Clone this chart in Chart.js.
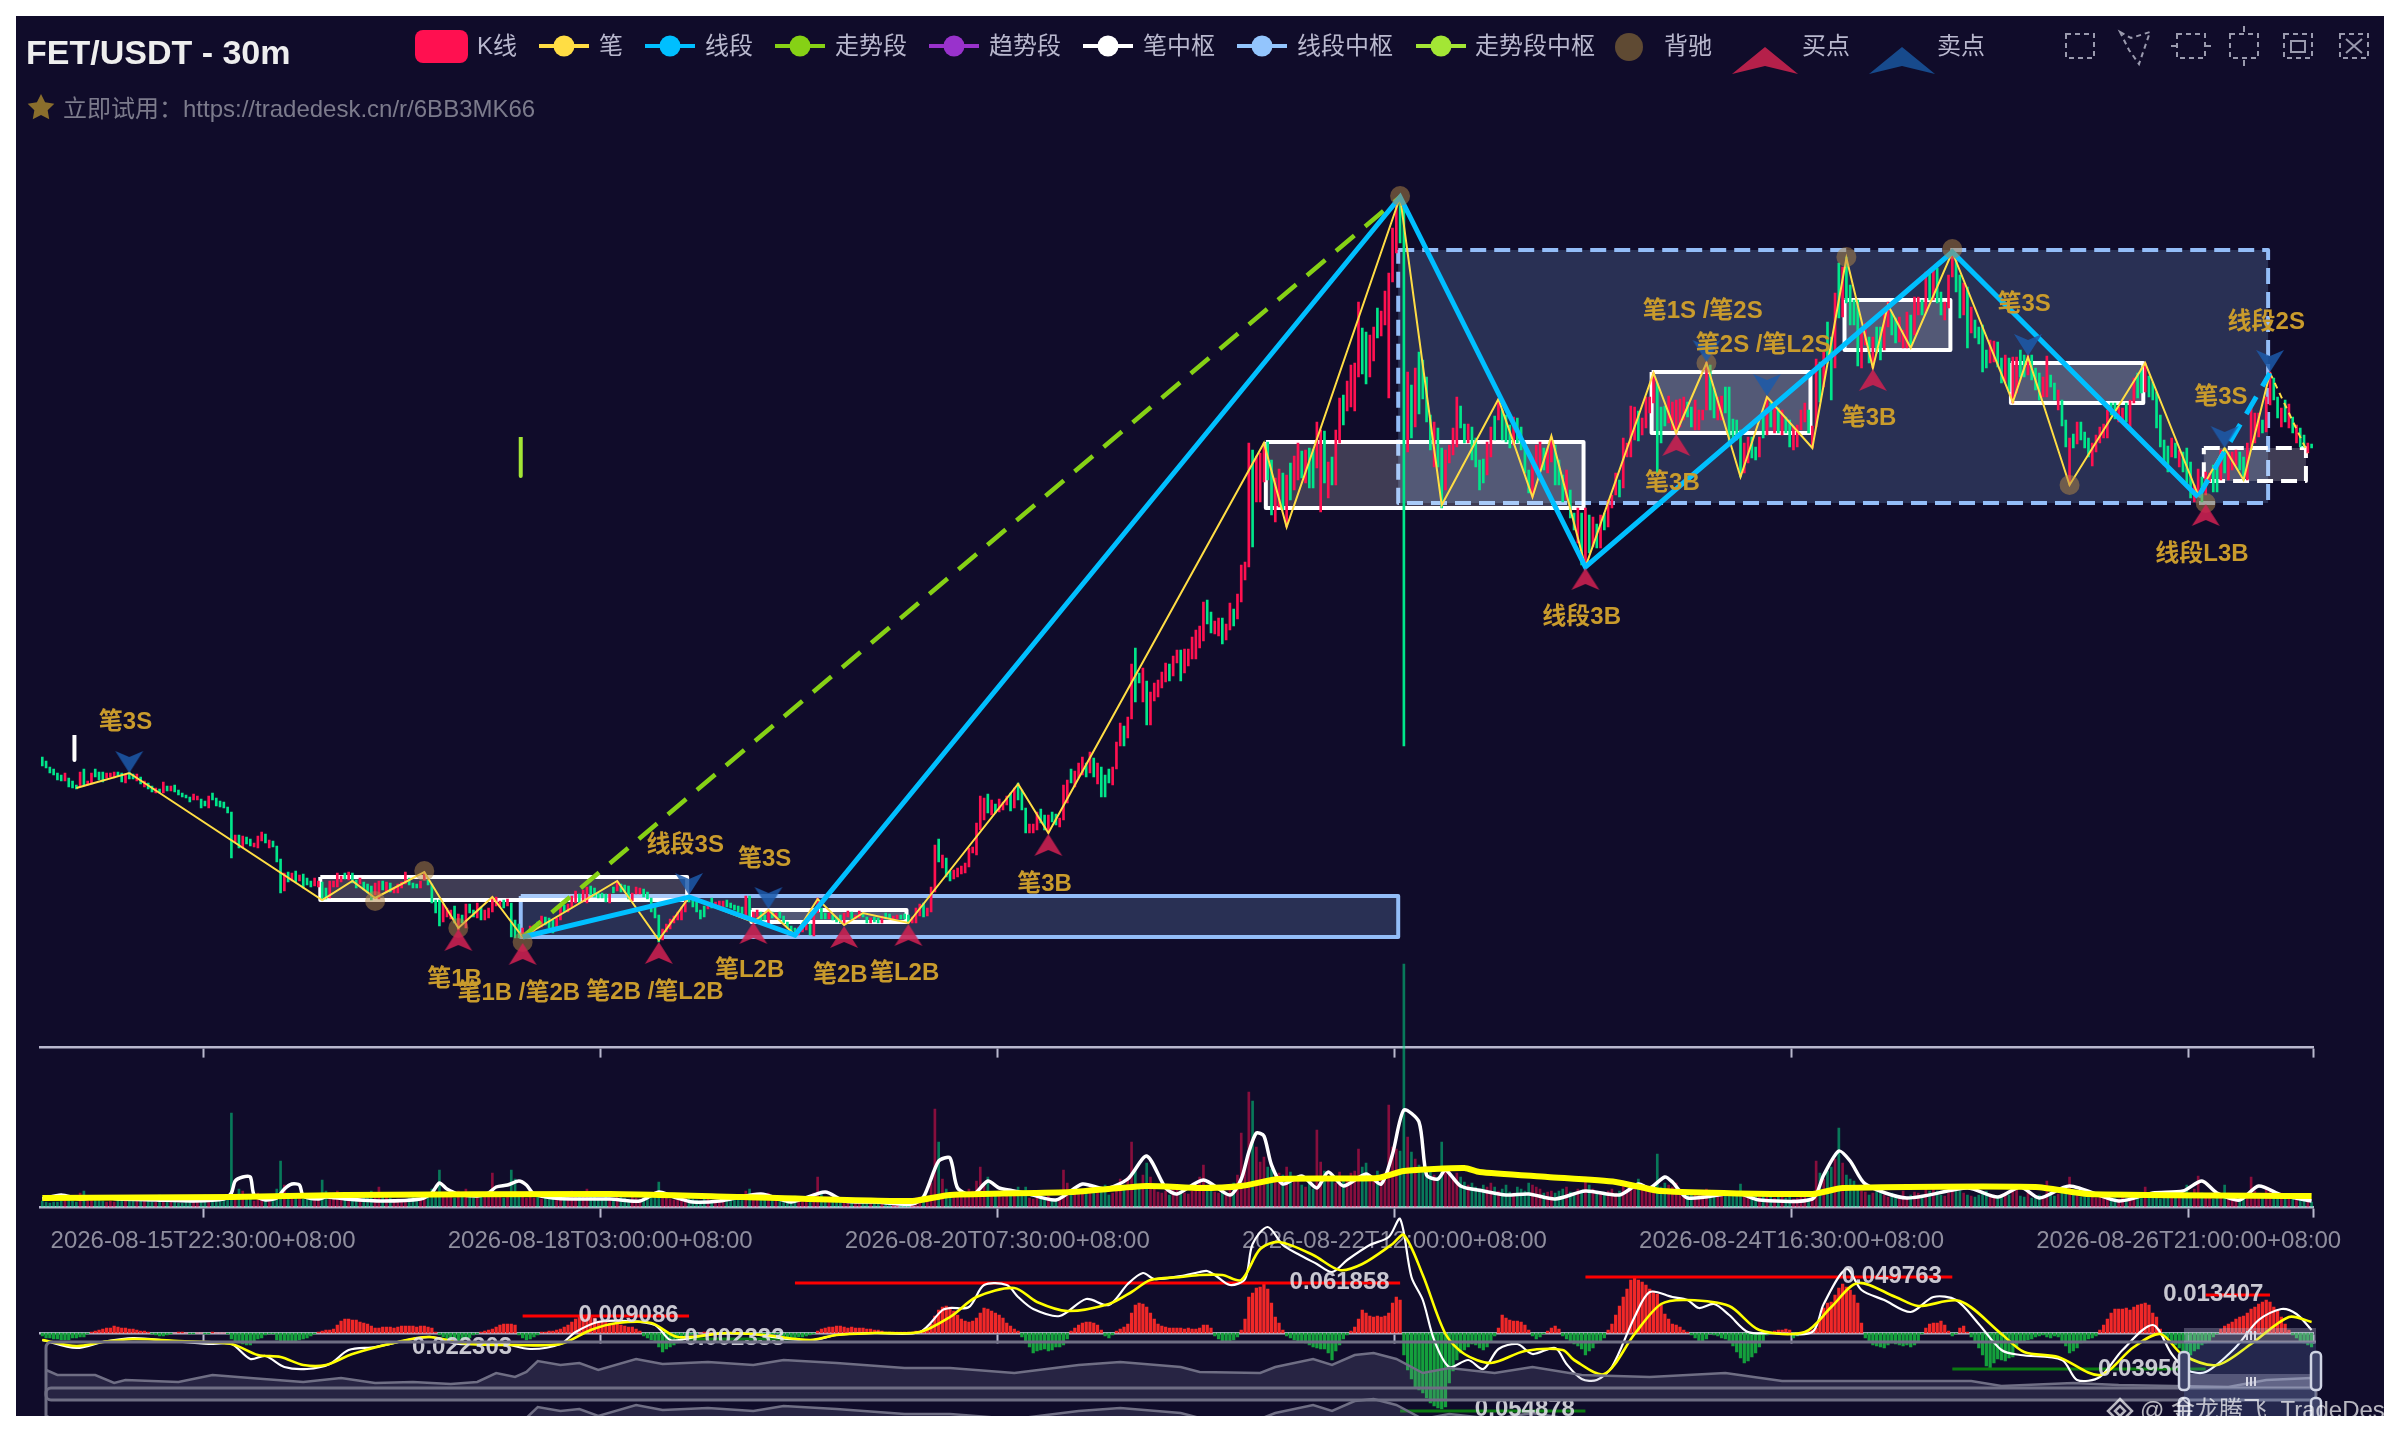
<!DOCTYPE html>
<html>
<head>
<meta charset="utf-8">
<title>FET/USDT - 30m</title>
<script src="https://cdn.jsdelivr.net/npm/chart.js@4/dist/chart.umd.js"></script>
<style>
    html, body { margin: 0; padding: 0; background: #fff; }
    canvas { display: block; }
</style>
</head>
<body>
<canvas id="chart" width="2400" height="1440"></canvas>
<script>
// prices in 1/1000 USDT
const highs = [
    443,439,433,431,427,425,427,422,419,415, 428,431,419,427,431,428,428,427,427,428,
    428,427,425,428,426,426,423,419,417,414, 412,411,418,414,414,415,410,407,405,403,
    406,404,401,399,404,407,402,399,398,393, 388,365,365,364,363,361,357,364,368,366,
    360,359,354,341,327,328,327,329,325,326, 322,319,322,319,318,312,319,319,327,324,
    327,328,327,320,322,318,316,314,317,319, 319,318,317,312,316,318,328,322,317,316,
    319,328,320,316,300,300,296,292,290,294, 286,285,296,296,290,297,293,290,292,303,
    303,299,300,301,297,280,276,272,268,274, 275,278,284,283,282,280,282,294,295,296,
    304,309,306,310,313,314,312,307,307,306, 306,313,319,316,315,314,307,313,312,311,
    308,302,293,285,271,276,281,284,288,293, 301,304,300,298,290,294,298,302,298,299,
    299,300,297,295,294,293,304,304,288,290, 288,285,290,288,287,288,284,278,274,272,
    273,274,278,276,287,302,292,287,287,285, 283,285,287,289,288,285,289,286,283,282,
    283,282,284,287,286,284,285,285,286,285, 283,292,296,297,292,313,355,361,345,342,
    329,330,332,334,337,352,353,377,404,402, 406,400,396,401,398,404,407,412,417,410,
    392,376,376,388,391,385,385,388,386,382, 415,420,431,429,437,443,437,448,442,437,
    433,425,431,433,458,477,474,483,536,552, 527,532,519,508,517,520,528,537,536,544,
    550,550,551,551,563,570,574,598,600,588, 579,582,582,576,597,591,606,635,638,757,
    750,744,747,757,758,740,722,731,727,725, 737,744,757,749,750,752,751,778,770,769,
    738,743,770,802,805,819,835,837,898,872, 868,865,873,892,889,909,927,972,995,1003,
    995,828,815,832,848,840,823,785,778,772, 752,750,755,772,803,794,776,776,773,762,
    740,741,758,773,784,801,790,785,775,783, 782,773,753,730,743,755,758,752,752,763,
    755,740,725,730,710,687,692,687,692,685, 683,676,685,687,700,705,727,720,762,757,
    794,793,789,782,803,803,827,817,793,794, 804,798,800,801,803,798,793,800,790,790,
    838,835,812,803,804,813,813,781,780,770, 757,763,763,753,763,783,803,797,797,792,
    790,783,780,773,775,790,797,790,774,841, 838,848,878,863,907,937,933,943,915,900,
    900,870,877,863,863,873,873,888,898,888, 882,883,870,888,885,903,903,900,928,928,
    930,932,908,898,925,950,940,925,917,913, 893,880,873,875,850,860,859,858,842,845,
    842,843,843,850,845,845,845,832,827,823, 844,825,817,810,800,780,762,766,778,778,
    768,762,757,765,773,776,790,797,797,793, 792,797,800,822,827,832,837,824,818,808,
    785,760,754,762,757,750,748,752,738,715, 731,723,728,727,735,735,750,752,748,748,
    750,748,743,757,797,787,787,780,803,828, 822,803,792,800,796,783,775,772,765,757,
    756
];
const lows = [
    434,432,427,425,420,419,419,413,412,411, 413,414,415,416,423,420,418,422,423,422,
    424,418,417,421,421,419,416,413,411,408, 407,407,407,409,409,408,405,403,402,398,
    400,400,392,394,392,400,394,393,392,387, 342,358,352,352,356,354,353,352,359,357,
    352,353,338,307,309,318,319,318,319,312, 315,313,314,313,300,301,302,313,313,318,
    321,320,317,312,316,310,307,300,305,301, 310,308,308,307,307,312,316,315,312,312,
    312,320,315,297,287,274,278,283,281,277, 270,277,272,287,283,282,280,280,282,288,
    294,293,292,294,263,262,262,263,262,265, 268,272,273,275,272,267,270,280,288,288,
    293,297,297,298,297,305,303,302,302,298, 297,307,309,308,308,301,299,306,306,303,
    301,288,282,258,260,268,271,277,280,280, 288,298,293,288,281,283,291,292,293,293,
    293,293,292,290,288,285,283,282,278,283, 276,280,275,282,281,282,277,272,267,263,
    265,268,270,265,264,287,281,281,281,280, 278,277,275,283,281,281,282,283,277,277,
    278,277,277,281,281,281,281,281,281,277, 277,277,284,283,284,288,308,338,332,323,
    319,321,323,326,327,333,347,345,370,380, 387,385,387,388,390,395,389,392,400,390,
    367,367,367,370,377,370,367,378,375,373, 380,397,417,413,422,425,423,427,423,416,
    403,403,417,415,431,454,454,462,481,498, 517,498,475,475,499,503,512,518,519,524,
    537,519,527,534,541,541,552,559,576,567, 566,564,556,560,570,574,581,598,620,633,
    653,698,698,718,720,685,678,693,690,673, 700,710,720,722,717,712,712,732,688,717,
    702,715,715,757,775,789,793,789,823,826, 816,823,839,862,864,875,802,918,947,957,
    454,748,762,773,786,801,778,750,733,733, 692,710,737,745,753,772,757,757,740,733,
    710,717,725,743,760,780,760,758,752,755, 757,750,727,707,703,727,730,730,727,738,
    715,715,698,700,682,670,657,635,632,647, 653,652,652,670,673,692,705,703,712,743,
    743,760,759,765,772,787,797,727,757,774, 777,770,767,773,780,783,773,770,770,780,
    790,790,782,780,780,787,758,758,760,723, 727,737,742,740,743,762,765,773,767,767,
    765,767,753,750,753,770,778,767,752,773, 798,813,837,800,832,882,883,897,875,875,
    834,832,855,837,832,847,840,850,873,865, 857,858,852,852,853,865,885,885,887,900,
    900,897,885,880,892,923,908,882,885,852, 867,862,856,828,832,837,838,833,817,817,
    808,797,807,823,823,825,820,810,800,803, 803,813,800,790,774,753,715,752,756,760,
    752,743,734,748,757,762,762,785,781,778, 777,778,773,797,802,807,808,803,800,772,
    753,735,728,743,742,733,728,717,702,698, 703,698,705,718,708,708,720,727,720,730,
    735,730,720,720,752,757,763,767,768,795, 800,782,773,778,772,767,757,753,753,747,
    752
];
// r = close above open, g = close below open
const candleDir = (
    'ggggggrggg' + 'rgrrgggrrr' + 'ggrggrgrgg' + 'rgrgrggggg' + 'rrggrggggg' + 'grgrggrrrg' +
    'rgggrgrgrg' + 'ggrrggrrrr' + 'grggrgggrr' + 'grgrrrrggg' + 'rrggggrrrg' + 'rgrggrgrrr' +
    'rrgrgggrrr' + 'rgrgggrrgr' + 'rrgrrggggg' + 'rgrgggrrrg' + 'ggggrrrrrr' + 'rgggggrgrr' +
    'rgggggrgrr' + 'ggrgrggggg' + 'rrrgrrggrg' + 'ggrrgrrggr' + 'ggrggrrggg' + 'rrrgrrrgrg' +
    'grrrrrrrrr' + 'grgrrrgrgg' + 'grrrggrggr' + 'rrgrrrgrgr' + 'gggrrrgrrg' + 'grgrrrrrgr' +
    'rgrrrrrrgg' + 'rrgrrgrrrr' + 'grrrggrrgr' + 'grrgrggrrg' + 'rgrrgrrrrg' + 'grrgrrrrrg' +
    'grgrggggrg' + 'grrrrggrgg' + 'ggrrgrgggr' + 'ggggrrrgrr' + 'gggrggrgrg' + 'rgrgrrrgrr' +
    'rrgrrrrggg' + 'rrrrrggrrr' + 'rggrrggggg' + 'rrggrgrgrg' + 'rggrrrrgrr' + 'grggrgrggg' +
    'grrgrggrrg' + 'grrrgrrgrg' + 'rggrrrggrg' + 'rggggrrggr' + 'grrggrgggr' + 'rggrggrgrg' +
    'ggrrrrrggr' + 'rgrrggrggg' + 'gggrgrgggr' + 'rgrrggrgrr' + 'rggrrrrgrr' + 'ggrgrgrggr' + 'g'
).split('');

const volumes = [
    6,5,4,5,5,6,7,8,6,5,14,16,6,10,9,8,6,5,6,5, 7,8,7,6,7,7,6,7,6,5,5,12,7,6,6,5,4,4,6,7, 5,8,7,12,9,8,7,6,7,8,
    94,12,18,16,9,8,6,14,12,11,9,8,18,46,22,14,10,12,9,8, 9,7,8,9,27,16,14,8,16,8,10,12,11,8,9,10,9,16,12,20, 12,10,9,7,8,7,6,9,14,9,
    8,14,9,18,15,37,14,10,12,9,16,12,18,11,9,12,13,12,15,34, 14,10,9,11,37,28,14,12,9,11,9,10,8,9,12,8,10,14,10,13, 16,15,12,14,18,12,10,9,8,10,
    9,8,10,12,9,8,10,9,8,9,10,12,14,25,14,10,8,7,9,12, 10,9,8,7,6,8,9,7,6,6,7,6,7,8,9,10,16,18,14,10, 12,8,14,9,7,8,7,8,9,11,
    8,7,9,10,14,30,16,9,8,7,7,8,6,7,6,8,7,6,5,6, 7,6,7,6,5,6,6,5,6,8,7,9,10,12,11,24,98,65,28,18, 14,12,11,10,13,18,16,26,40,24,
    30,14,12,16,10,13,18,14,20,14,20,9,8,12,10,9,11,8,7,8, 37,24,18,16,14,18,16,20,15,18,20,22,12,14,18,28,22,30,65,38, 18,32,44,30,20,15,14,16,12,18,
    22,16,14,13,16,22,30,42,18,16,15,14,16,13,20,24,32,74,40,115, 106,60,45,50,40,38,30,34,32,40,35,28,30,22,20,24,18,77,45,36, 30,26,24,35,30,28,34,36,58,40,
    44,32,30,36,28,34,102,60,58,56,243,70,55,48,42,40,36,38,32,30, 65,40,36,28,34,30,25,22,24,20,18,22,20,24,20,16,18,22,15,14, 20,18,16,24,22,20,18,14,15,16,
    14,16,18,20,15,14,18,17,30,22,18,16,14,15,16,18,14,16,22,16, 20,18,28,20,16,18,22,53,20,24,22,20,24,18,16,14,16,15,14,12, 18,16,12,14,12,13,15,12,11,23,
    10,12,9,11,10,12,14,11,9,10,12,9,10,8,9,10,12,9,14,46, 34,28,36,40,48,79,44,32,28,26,18,16,15,12,14,16,18,12,10,14, 12,11,16,10,12,15,14,12,22,16,
    18,16,12,11,14,18,22,16,14,12,11,10,12,14,16,13,12,10,11,14, 12,16,20,11,10,14,9,10,12,10,26,14,11,13,16,18,30,14,12,10, 11,10,12,9,10,9,11,8,9,8,
    10,8,9,14,12,11,20,13,10,9,8,9,10,12,9,11,10,22,14,18, 31,14,12,9,8,10,9,22,14,11,9,10,12,14,30,16,13,12,20,18, 12,10,14,12,11,9,8,9,7,6,5
];

// MACD histogram, 1e-3
const macdHist = [
    -3,-5,-5,-6,-6,-7,-7,-7,-5,-5,-4,-4,-1, 1,2,3,4,5,5,7,6,5,5,4,4,3,2,2,1, -1,-2,-3,-3,-2,-1,
    0,1,1,0,-1,-1,0,0,-1,-1,1,0,0,0, -1,-6,-9,-10,-11,-12,-12,-8,-6,-5,-2, -1,-1,-7,-8,-9,-9,-8,-9,-7,-6,-5,-3,-1,
    1,2,3,3,4, 8,12,14,14,13,13,11,10,9,7,5, 5,6,6,6,5,6,7,7,7,7,6,7,7,6,5,1, -2,-4,-6,-6,-5,-8,-7,-6,-5,-2,-1,
    1,2,3,4,6,8,9,9,9,8, -2,-5,-7,-6,-4,-2, 1,1,2,2,3,4,6,8,11,14,16,17,18,17,15,12,12,11,10,9,9,8,7,6,6,4,2,
    -3,-5,-7,-9,-14,-19,-16,-14,-12,-10,-9,-5,-2, -1,-1,0,1,1,0,-1,-1,-1,0,0,1,1,0,-1,-1,-1,-2,-2,-1,-1,-1,-1,
    -2,-3,-4,-4,-5,-4,-4,-3,-2,-1, 2,4,5,6,6,7,7,6,5,6,5,5,5,4,4,3,3,2,1, 1,1,1,1,1,1,1,
    2,2,3,5,9,17,23,26,27,26,22,18,14,12,11,12,15,20,25,24,22,20,18,15,10,7,4,2, -4,-10,-14,-20,-18,-17,-16,-18,-17,-14,-14,-12,-6,
    2,5,8,10,11,11,10,8,3, -3,-5,-2, 2,4,6,9,20,28,30,29,26,20,14,9,7,6,5,5,5,5,4,5, 4,4,5,8,8,5, -3,-6,-8,-8,-8,-7,-4,
    3,14,36,40,45,46,50,44,30,16,10,3, -3,-5,-7,-8,-9,-10,-12,-14,-15,-16,-16,-20,-27,-18,-12,-6,-2, 2,6,14,23,20,17,16,17,16,17,20,30,36,33,
    -22,-37,-46,-54,-57,-60,-65,-70,-73,-75,-76,-74,-50,-38,-27,-20,-17,-14,-11,-12,-15,-17,-14,-8,-3, 5,18,15,13,12,12,11,8,3, -3,-6,-4,-1, 2,5,7,4,
    -3,-6,-8,-11,-13,-16,-22,-18,-15,-10,-8,-5, 3,9,18,27,36,44,53,55,53,51,48,44,42,39,28,19,14,9,8,6,3,1, -2,-5,-8,-8,-6,-1,
    -2,-3,-5,-6,-8,-13,-19,-25,-30,-28,-24,-20,-14,-8,-2, 1,2,3,3,4,3,-5, -3,1,1,2,3, 5,14,25,30,31,38,45,49,46,43,38,30,10,
    -5,-8,-12,-13,-14,-15,-12,-10,-11,-12,-13,-12,-14,-12,-8, -1,5,9,10,10,12,8,2,-3,-1,5,7,1, -4,-10,-15,-22,-33,-36,-30,-26,-27,-28,-25,-24,-14,
    -9,-8,-7,-6,-4,-3,-2,-4,-5,-3,-4,-8,-13,-20,-18,-15,-10,-8,-6,-5,-3, 3,8,14,20,24,24,24,25,23,26,28,29,30,28,20,16,4,
    -3,-5,-8,-12,-15,-20,-24,-22,-18,-16,-12,-10,-8,-4,-1, 4,7,9,11,14,16,17,20,24,26,29,31,33,31,26,22,16,9,3, -2,-5,-8,-10,-12,-14
];

// smoothed lines, read at their turning points
const volFastIdx = [0,5,10,15,20,30,40,48,50,51,53,55,56,59,62,64,66,68,69,73,75,80,90,100,103,105,107,110,115,118,120,123,126,128,130,135,140,150,158,163,167,172,179,190,198,207,212,220,230,233,237,240,242,246,250,253,260,268,275,281,287,292,297,300,307,314,317,319,321,323,325,328,333,337,340,344,350,354,357,360,364,366,369,371,375,381,387,393,400,408,417,422,425,429,431,435,448,454,468,471,475,478,482,493,509,517,523,528,536,549,558,566,571,575,581,586,592,600];
const volFast = [8,12,8,10,8,7,6,8,14,26,30,30,12,7,9,18,23,22,11,8,10,8,6,8,14,24,18,13,11,14,20,22,26,22,13,9,8,8,6,15,10,5,6,13,5,15,6,5,3,10,46,49,19,12,26,19,14,7,23,18,28,51,19,13,27,12,28,55,74,71,42,23,31,19,35,21,33,23,53,97,85,32,28,37,21,16,12,13,8,16,12,23,19,30,25,9,14,7,8,32,56,46,23,9,19,10,20,9,21,6,14,16,26,14,7,21,12,6];
const volSlowIdx = [0,50,80,150,185,230,240,272,292,306,317,327,353,360,376,380,398,416,428,468,476,527,541,600];
const volSlow = [9,10,12,13,10,6,12,15,21,19,21,28,29,36,39,35,30,25,16,13,19,20,13,11];

const difIdx = [0,9,16,24,34,44,50,55,59,64,70,76,81,88,98,103,110,121,129,137,141,147,155,162,166,170,177,187,197,204,210,220,232,238,240,245,249,255,258,262,269,276,282,287,291,294,301,306,308,310,314,318,320,324,328,332,337,341,345,351,356,359,362,365,368,372,377,381,385,390,394,400,403,407,411,415,421,425,431,435,438,442,446,451,458,468,471,477,481,487,494,500,506,512,518,523,534,538,544,550,558,563,567,572,580,586,592,596,600];
const difVals = [-7,-15,-9,-5,-8,-11,-11,-26,-23,-34,-36,-31,-17,-14,-6,-4,-11,-10,-16,-11,1,11,12,8,-7,-6,-1,-1,-6,-7,-2,0,1,23,25,26,48,48,36,24,17,34,28,49,60,54,57,61,62,58,48,54,89,106,88,79,69,61,73,88,96,114,56,33,-7,-34,-27,-36,-16,-11,-21,-15,-31,-46,-47,-34,16,41,36,33,25,29,18,1,0,1,29,64,43,33,21,36,33,9,-17,-22,-27,-47,-44,-17,8,-21,-37,-39,-14,13,24,19,3];
const deaIdx = [0,9,16,24,36,50,57,63,69,75,82,94,102,113,125,137,145,152,161,168,181,191,203,210,220,232,240,247,257,263,271,282,288,293,301,306,312,317,322,327,336,343,349,357,360,365,371,376,383,392,402,405,413,421,428,435,446,454,466,473,480,490,496,507,518,524,533,544,553,560,566,575,584,594,600];
const deaVals = [-7,-13,-9,-6,-8,-11,-22,-24,-32,-32,-21,-9,-4,-11,-12,-11,3,10,10,-4,0,-2,-7,-2,0,1,16,36,45,31,22,29,41,53,56,58,58,53,84,91,78,63,69,89,98,58,-1,-21,-30,-18,-17,-27,-41,-1,29,33,27,3,1,26,50,36,27,32,-1,-19,-24,-42,-14,-1,-22,-32,-11,16,11];

// slider background line, height above the slider floor
const shadowIdx = [1,4,14,19,22,36,45,55,69,79,88,98,108,115,120,125,128,131,137,142,147,157,164,176,188,196,210,228,240,257,274,285,301,306,322,326,336,341,347,352,358,365,372,384,394,407,425,445,460,510,518,537,549,578,588,600];
const shadowVals = [18,13,13,5,8,6,13,10,6,10,5,6,4,6,15,11,16,27,23,25,18,29,24,26,23,28,25,20,20,15,23,26,21,16,15,21,29,23,33,35,29,15,20,15,21,13,11,15,7,7,2,5,3,1,8,10];

// chan structure: pens, segments, trend
const penIdx = [9,23,74,82,88,101,110,119,127,152,163,171,188,192,199,205,212,217,229,258,266,323,329,359,370,385,394,399,408,426,432,440,449,456,468,477,484,488,494,505,521,525,536,556,570,577,582,589];
const penVals = [412,427,300,319,302,328,272,303,263,319,260,303,278,290,265,301,275,287,277,416,367,757,673,1003,695,801,703,764,633,827,767,837,723,803,752,942,832,895,852,948,798,843,715,837,705,752,720,827];
const penOpenIdx = [589,599];
const penOpenVals = [827,747];
const segIdx = [127,171,199,359,408,505,570];
const segVals = [263,303,265,1003,633,948,703];
const segOpenIdx = [570,589];
const segOpenVals = [703,827];
const trendIdx = [127,359];
const trendVals = [263,1003];

// pivots: start bar, end bar, top, bottom
const penPivots = [[74,171,323,300],[188,229,290,278],[324,408,758,692],[426,468,828,767],[477,505,900,850],[521,556,837,797]];
const penPivotOpen = [572,599,752,719];
const penPivotFlat = [9,9,465,440];
const segPivotDone = [127,359,304,263];
const segPivotOpen = [359,589,950,697];
const trendPivotFlat = [127,127,763,724];

const buyIdx = [110,127,163,188,212,229,266,408,432,484,572];
const buyVals = [271,257,258,278,274,276,366,632,766,831,696];
const sellIdx = [23,171,192,440,456,525,577,589];
const sellVals = [427,305,291,838,804,844,752,828];
const divIdx = [88,101,110,127,359,440,477,505,536,572];
const divVals = [299,329,272,258,1004,837,943,951,715,697];

const noteIdx = [22,109,126,162,170,191,187,211,228,265,439,455,431,483,407,524,588,576,571];
const noteVals = [479,222,208,209,356,342,231,226,228,317,890,856,718,783,584,897,879,804,647];
const noteText = ['笔3S','笔1B','笔1B /笔2B','笔2B /笔L2B','线段3S','笔3S','笔L2B','笔2B','笔L2B','笔3B','笔1S /笔2S','笔2S /笔L2S','笔3B','笔3B','线段3B','笔3S','线段2S','笔3S','线段L3B'];

// macd area extremes: from, to, level
const macdHighs = [[127,171,17],[199,359,50],[408,505,56],[572,589,38]];
const macdLows = [[171,199,-6],[359,408,-78],[505,572,-36]];
const macdNoteIdx = [155,343,489,574,183,555,392,111];
const macdNoteVals = [19,52,58,40,-4,-35,-75,-13];
const macdNoteText = ['0.009086','0.061858','0.049763','0.013407','0.002333','0.03956','0.054878','0.022303'];

const tickBars = [43,148,253,358,463,568,601];
const tickText = ['2026-08-15T22:30:00+08:00','2026-08-18T03:00:00+08:00','2026-08-20T07:30:00+08:00','2026-08-22T12:00:00+08:00','2026-08-24T16:30:00+08:00','2026-08-26T21:00:00+08:00',''];

const UP = '#ff1050', DOWN = '#00e68a';
const FONT = '"Liberation Sans","Noto Sans CJK SC"';

const pts = (idx, vals) => idx.map((i, k) => ({x: i + 0.5, y: vals[k]}));

function arrowCanvas(color, up) {
    // tip sits at the canvas centre so that it lands on the price
    const c = document.createElement('canvas');
    c.width = 30; c.height = 48;
    const g = c.getContext('2d');
    g.fillStyle = color;
    g.beginPath();
    if (up) {
        g.moveTo(15, 24); g.lineTo(29, 46); g.lineTo(15, 40); g.lineTo(1, 46);
    } else {
        g.moveTo(15, 24); g.lineTo(29, 2); g.lineTo(15, 8); g.lineTo(1, 2);
    }
    g.closePath();
    g.fill();
    return c;
}

function boxDataset(p, color, fill, dashed, order) {
    const [a, b, top, bottom] = p;
    return {
        type: 'line', xAxisID: 'x', yAxisID: 'yMain', order,
        data: [{x: a, y: top}, {x: b, y: top}, {x: b, y: bottom}, {x: a, y: bottom}, {x: a, y: top}],
        borderColor: color, borderWidth: 4, borderJoinStyle: 'round',
        borderDash: dashed || [], backgroundColor: fill, fill: fill ? 'shape' : false,
        pointRadius: 0, tension: 0
    };
}

function lineDataset(data, yAxisID, color, width, order, extra) {
    return Object.assign({
        type: 'line', xAxisID: 'x', yAxisID, order, data,
        borderColor: color, borderWidth: width, pointRadius: 0, tension: 0, fill: false
    }, extra || {});
}

function barDataset(data, yAxisID, colors, width, order) {
    return {
        type: 'bar', xAxisID: 'x', yAxisID, order, data,
        backgroundColor: colors, barThickness: width, grouped: false, borderWidth: 0
    };
}

function markerDataset(data, style, order, radius, color) {
    return {
        type: 'line', xAxisID: 'x', yAxisID: 'yMain', order, data, showLine: false,
        pointStyle: style, pointRadius: radius, backgroundColor: color, pointBackgroundColor: color, pointBorderWidth: 0
    };
}

const whiteFill = 'rgba(255,255,255,0.2)';
const blueFill = 'rgba(147,197,253,0.2)';
const WHITE = '#ffffff', BLUE = '#93bdf8';

const datasets = [
    boxDataset(segPivotDone, BLUE, blueFill, null, 60),
    boxDataset(segPivotOpen, BLUE, blueFill, [16, 8], 60),
    ...penPivots.map(p => boxDataset(p, WHITE, whiteFill, null, 58)),
    boxDataset(penPivotOpen, WHITE, whiteFill, [16, 8], 58),
    boxDataset(penPivotFlat, WHITE, null, null, 58),
    boxDataset(trendPivotFlat, '#a3e635', null, [17, 7], 58),

    barDataset(highs.map((h, i) => ({x: i + 0.5, y: [lows[i], h]})), 'yMain',
        candleDir.map(d => d === 'r' ? UP : DOWN), 2, 50),
    lineDataset(pts(penIdx, penVals), 'yMain', '#ffdd44', 2, 40),
    lineDataset(pts(penOpenIdx, penOpenVals), 'yMain', '#ffdd44', 2, 40, {borderDash: [6, 5]}),
    lineDataset(pts(segIdx, segVals), 'yMain', '#00bfff', 5, 38),
    lineDataset(pts(segOpenIdx, segOpenVals), 'yMain', '#00bfff', 5, 38, {borderDash: [20, 12]}),
    lineDataset(pts(trendIdx, trendVals), 'yMain', '#86d115', 4.5, 39, {borderDash: [24, 14]}),
    markerDataset(pts(divIdx, divVals), 'circle', 30, 10, 'rgba(180,135,70,0.5)'),
    markerDataset(pts(buyIdx, buyVals), arrowCanvas('rgba(205,33,81,0.88)', true), 29, 12),
    markerDataset(pts(sellIdx, sellVals), arrowCanvas('rgba(28,90,170,0.85)', false), 29, 12),

    barDataset(volumes.map((v, i) => ({x: i + 0.5, y: v})), 'yVol',
        candleDir.map(d => d === 'r' ? 'rgba(255,16,80,0.5)' : 'rgba(0,230,138,0.5)'), 2, 25),
    lineDataset(pts(volSlowIdx, volSlow), 'yVol', '#ffff00', 6, 23, {tension: 0.2}),
    lineDataset(pts(volFastIdx, volFast), 'yVol', '#ffffff', 3.5, 24, {tension: 0.25}),

    barDataset(macdHist.map((v, i) => ({x: i + 0.5, y: v})), 'yMacd',
        macdHist.map(v => v >= 0 ? '#f02828' : '#14a03c'), 2.6, 22),
    ...macdHighs.map(m => lineDataset([{x: m[0] + 0.5, y: m[2]}, {x: m[1] + 0.5, y: m[2]}], 'yMacd', '#ff0000', 3, 21)),
    ...macdLows.map(m => lineDataset([{x: m[0] + 0.5, y: m[2]}, {x: m[1] + 0.5, y: m[2]}], 'yMacd', '#0a7a10', 3, 21)),
    lineDataset(pts(difIdx, difVals), 'yMacd', '#ffffff', 2.2, 20, {tension: 0.3}),
    lineDataset(pts(deaIdx, deaVals), 'yMacd', '#ffff00', 2.6, 19, {tension: 0.3}),

    lineDataset(pts(shadowIdx, shadowVals), 'ySlider', '#6f6e84', 2.5, 12, {fill: {value: 0}, backgroundColor: 'rgba(135,134,170,0.2)'}),
    lineDataset(pts(shadowIdx, shadowVals.map(v => v - 46)), 'ySlider', '#6f6e84', 2.5, 12, {fill: {value: -52}, backgroundColor: 'rgba(135,134,170,0.2)'})
];

function xAxis(yId, yValue, withLabels) {
    return {
        type: 'linear', min: 0, max: 601, offset: false,
        position: {[yId]: yValue},
        afterBuildTicks: s => { s.ticks = tickBars.map(v => ({value: v})); },
        border: {display: true, color: '#b9b8ce', width: 2.6},
        grid: {drawOnChartArea: false, drawTicks: true, tickLength: 9, tickColor: '#b9b8ce', tickWidth: 2, offset: false},
        ticks: {
            display: withLabels, autoSkip: false, maxRotation: 0, padding: 11,
            color: '#8f8e9e', font: {family: FONT, size: 24},
            callback: v => tickText[tickBars.indexOf(v)]
        }
    };
}

function yAxis(bottomValue, topValue) {
    return {type: 'linear', display: false, min: bottomValue, max: topValue, grid: {display: false}};
}

const legendEntries = [
    ['rect', 415, 'K线', UP, 477],
    ['line', 539, '笔', '#ffdd44', 599],
    ['line', 645, '线段', '#00bfff', 705],
    ['line', 775, '走势段', '#86d115', 835],
    ['line', 929, '趋势段', '#9932cc', 989],
    ['line', 1083, '笔中枢', '#ffffff', 1143],
    ['line', 1237, '线段中枢', '#93c5fd', 1297],
    ['line', 1416, '走势段中枢', '#a3e635', 1475],
    ['dot', 1629, '背驰', '#5f4a33', 1664],
    ['buy', 1765, '买点', '#b5204a', 1802],
    ['sell', 1902, '卖点', '#174a8c', 1937]
];

function drawLegend(ctx) {
    ctx.textAlign = 'left';
    ctx.textBaseline = 'middle';
    ctx.font = '24px ' + FONT;
    legendEntries.forEach(([kind, x, name, color, textX]) => {
        ctx.fillStyle = color;
        ctx.strokeStyle = color;
        if (kind === 'rect') {
            ctx.beginPath();
            ctx.roundRect(x, 30, 53, 33, 8);
            ctx.fill();
        } else if (kind === 'line') {
            ctx.lineWidth = 4;
            ctx.beginPath();
            ctx.moveTo(x, 46); ctx.lineTo(x + 50, 46);
            ctx.stroke();
            ctx.beginPath();
            ctx.arc(x + 25, 46, 10.5, 0, Math.PI * 2);
            ctx.fill();
        } else if (kind === 'dot') {
            ctx.beginPath();
            ctx.arc(x, 47, 14, 0, Math.PI * 2);
            ctx.fill();
        } else {
            ctx.beginPath();
            ctx.moveTo(x, 47); ctx.lineTo(x + 33, 74); ctx.lineTo(x, 66); ctx.lineTo(x - 33, 74);
            ctx.closePath();
            ctx.fill();
        }
        ctx.fillStyle = '#b9b8ce';
        ctx.fillText(name, textX, 47);
    });
}

function drawToolbox(ctx) {
    const centers = [2080, 2135, 2191, 2244, 2298, 2354];
    ctx.save();
    ctx.strokeStyle = '#9a9aae';
    ctx.lineWidth = 2;
    centers.forEach((cx, k) => {
        const cy = 46;
        ctx.setLineDash([5, 4]);
        ctx.beginPath();
        if (k === 1) {
            ctx.moveTo(cx - 15, cy - 14); ctx.lineTo(cx - 4, cy - 8); ctx.lineTo(cx + 15, cy - 14);
            ctx.lineTo(cx + 4, cy + 18); ctx.lineTo(cx - 6, cy + 4); ctx.closePath();
        } else {
            ctx.rect(cx - 14, cy - 12, 28, 24);
        }
        ctx.stroke();
        ctx.setLineDash([]);
        ctx.beginPath();
        if (k === 2) {
            ctx.moveTo(cx - 15, cy); ctx.lineTo(cx - 20, cy); ctx.moveTo(cx + 15, cy); ctx.lineTo(cx + 20, cy);
        } else if (k === 3) {
            ctx.moveTo(cx, cy - 14); ctx.lineTo(cx, cy - 20); ctx.moveTo(cx, cy + 14); ctx.lineTo(cx, cy + 20);
        } else if (k === 4) {
            ctx.rect(cx - 7, cy - 5, 14, 11);
        } else if (k === 5) {
            ctx.moveTo(cx - 8, cy - 7); ctx.lineTo(cx + 8, cy + 7); ctx.moveTo(cx + 8, cy - 7); ctx.lineTo(cx - 8, cy + 7);
        }
        ctx.stroke();
    });
    ctx.restore();
}

function drawStar(ctx, cx, cy, r) {
    ctx.fillStyle = '#8a6e2c';
    ctx.beginPath();
    for (let k = 0; k < 10; k++) {
        const a = -Math.PI / 2 + k * Math.PI / 5;
        const rr = k % 2 ? r * 0.5 : r;
        ctx.lineTo(cx + Math.cos(a) * rr, cy + Math.sin(a) * rr);
    }
    ctx.closePath();
    ctx.fill();
}

function drawSlider(ctx) {
    const frame = '#6f6e84';
    ctx.save();
    ctx.strokeStyle = frame;
    ctx.lineWidth = 3;
    ctx.beginPath();
    ctx.moveTo(46, 1416); ctx.lineTo(46, 1348);
    ctx.quadraticCurveTo(46, 1342, 52, 1342);
    ctx.lineTo(2316, 1342);
    ctx.stroke();
    ctx.fillStyle = 'rgba(135,134,170,0.2)';
    ctx.beginPath();
    ctx.roundRect(46, 1388, 2270, 12, 5);
    ctx.fill();
    ctx.stroke();

    // selected window at the right end
    ctx.fillStyle = 'rgba(135,175,254,0.17)';
    ctx.fillRect(2184, 1342, 132, 74);
    ctx.fillStyle = 'rgba(190,190,215,0.32)';
    ctx.fillRect(2184, 1328, 132, 14);
    ctx.fillRect(2184, 1374, 132, 14);
    ctx.strokeStyle = '#d0d4e4';
    ctx.fillStyle = '#3d4168';
    ctx.lineWidth = 2.5;
    [2184, 2316].forEach(x => {
        [[1352, 38], [1398, 30]].forEach(([y, h]) => {
            ctx.beginPath();
            ctx.roundRect(x - 5, y, 10, h, 4);
            ctx.fill();
            ctx.stroke();
        });
    });
    ctx.fillStyle = '#d8d8e4';
    [1335, 1381].forEach(y => {
        [-4, 0, 4].forEach(d => ctx.fillRect(2250 + d, y - 4, 2, 9));
    });
    ctx.restore();
}

const overlayPlugin = {
    id: 'overlay',
    beforeDraw(chart) {
        const ctx = chart.ctx;
        ctx.save();
        ctx.fillStyle = '#100c2a';
        ctx.fillRect(16, 16, 2368, 1400);
        ctx.textBaseline = 'middle';
        ctx.textAlign = 'left';
        ctx.fillStyle = '#eeeeee';
        ctx.font = 'bold 34px ' + FONT;
        ctx.fillText('FET/USDT - 30m', 26, 55);
        drawStar(ctx, 41, 108, 14);
        ctx.fillStyle = '#7c7b8c';
        ctx.font = '24px ' + FONT;
        ctx.fillText('立即试用：https://tradedesk.cn/r/6BB3MK66', 63, 110);
        drawLegend(ctx);
        drawToolbox(ctx);
        ctx.restore();
    },
    afterDatasetsDraw(chart) {
        const ctx = chart.ctx;
        const {x, yMain, yMacd} = chart.scales;
        ctx.save();
        ctx.textAlign = 'center';
        ctx.textBaseline = 'middle';
        ctx.font = 'bold 24px ' + FONT;
        ctx.fillStyle = '#c99b2c';
        noteText.forEach((t, k) => {
            ctx.fillText(t, x.getPixelForValue(noteIdx[k] + 0.5), yMain.getPixelForValue(noteVals[k]) + 1.5);
        });
        ctx.fillStyle = 'rgba(225,225,232,0.88)';
        macdNoteText.forEach((t, k) => {
            ctx.fillText(t, x.getPixelForValue(macdNoteIdx[k] + 0.5), yMacd.getPixelForValue(macdNoteVals[k]) + 1.5);
        });
        drawSlider(ctx);

        // page background under the dark panel
        ctx.fillStyle = '#ffffff';
        ctx.fillRect(0, 1416, 2400, 24);
        ctx.textAlign = 'left';
        ctx.font = '24px ' + FONT;
        ctx.fillStyle = 'rgba(255,255,255,0.7)';
        ctx.fillText('@ 金龙腾飞_TradeDesk', 2140, 1411);
        ctx.strokeStyle = 'rgba(255,255,255,0.7)';
        ctx.lineWidth = 2.5;
        ctx.beginPath();
        ctx.moveTo(2120, 1399); ctx.lineTo(2132, 1411); ctx.lineTo(2120, 1423); ctx.lineTo(2108, 1411);
        ctx.closePath();
        ctx.moveTo(2120, 1406); ctx.lineTo(2125, 1411); ctx.lineTo(2120, 1416); ctx.lineTo(2115, 1411);
        ctx.closePath();
        ctx.stroke();
        ctx.restore();
    }
};

new Chart(document.getElementById('chart'), {
    type: 'line',
    data: {datasets},
    plugins: [overlayPlugin],
    options: {
        responsive: false,
        devicePixelRatio: 1,
        animation: false,
        events: [],
        parsing: true,
        layout: {autoPadding: false, padding: {left: 40.4, right: 86.5, top: 0, bottom: 0}},
        plugins: {legend: {display: false}, tooltip: {enabled: false}, title: {display: false}},
        scales: {
            x: xAxis('yMain', 153, false),
            xVol: xAxis('yVol', 0, true),
            xMacd: xAxis('yMacd', 0, false),
            yMain: yAxis(-240, 1200),
            yVol: yAxis(-233, 1207),
            yMacd: yAxis(-107, 1333),
            ySlider: yAxis(-52, 1388)
        }
    }
});
</script>
</body>
</html>
